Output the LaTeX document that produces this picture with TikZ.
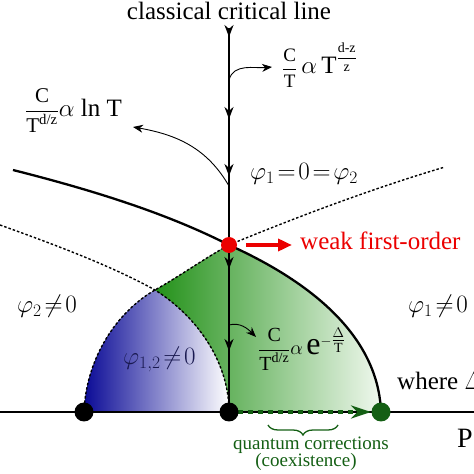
\documentclass[tikz,border=0pt]{standalone}
\usepackage{fix-cm}
\usepackage{amsmath}
\usepackage{fontspec}
\setmainfont{Liberation Serif}
\usetikzlibrary{arrows.meta, decorations.markings, decorations.pathreplacing}

\definecolor{bluephase}{RGB}{10,10,150}
\definecolor{greenphase}{RGB}{35,145,25}
\definecolor{greenlight}{RGB}{240,248,238}
\definecolor{darkgreen}{RGB}{20,95,20}
\definecolor{redpoint}{RGB}{235,0,0}
\definecolor{navytext}{RGB}{25,25,80}

\newcommand{\fsz}[1]{\fontsize{#1}{#1}\selectfont}

\tikzset{
  title/.style = {
    font=\fontsize{25}{28}\selectfont, inner sep=0pt
  },
  label/.style = {
    font=\fontsize{25}{28}\selectfont, inner sep=0pt, anchor=base west
  },
  smalllabel/.style = {
    font=\fontsize{20}{24}\selectfont, inner sep=0pt, anchor=base west
  },
  note/.style = {
    font=\fontsize{19}{20}\selectfont, inner sep=0pt, text=darkgreen
  },
  dot/.style = {
    circle, fill=black, inner sep=0pt, minimum size=19pt
  },
  bound/.style = { line width=2.3pt },
  dotline/.style = { line width=1.4pt, dash pattern=on 2.5pt off 2pt },
  thinarr/.style = { line width=0.9pt, -{Stealth[length=10pt, width=8pt]} },
  flowline/.style = {
    line width=2.2pt, postaction=decorate,
    decoration={markings,
      mark=at position 9pt   with {\arrow{Stealth[length=12pt, width=9pt]}},
      mark=at position 91pt  with {\arrow{Stealth[length=12pt, width=9pt]}},
      mark=at position 148pt with {\arrow{Stealth[length=12pt, width=9pt]}},
      mark=at position 241pt with {\arrow{Stealth[length=12pt, width=9pt]}},
      mark=at position 323pt with {\arrow{Stealth[length=12pt, width=9pt]}}}
  }
}

\begin{document}
\begin{tikzpicture}[x=1pt, y=1pt]

    \useasboundingbox (0,0) rectangle (474,474);

    % ------------------------------------------------------------- Key points
    \coordinate (L)    at (84,  62);
    \coordinate (O)    at (229, 62);
    \coordinate (G)    at (381, 62);
    \coordinate (R)    at (229, 229);
    \coordinate (X)    at (155, 184);
    \coordinate (top)  at (229, 446);
    \coordinate (axL)  at (0,   62);
    \coordinate (axR)  at (474, 62);
    \coordinate (solS) at (13,  304);
    \coordinate (dotA) at (0,   249);
    \coordinate (dotB) at (445, 307);

    % ---------------------------------------------------------------- Phases
    \fill [left color=bluephase, right color=white]
      (L) .. controls (86,114) and (115,161) .. (X)
          .. controls (195,159) and (229,114) .. (O) -- cycle;
    \fill [left color=greenphase, right color=greenlight]
      (X) .. controls (180,198) and (205,216) .. (R)
          .. controls (300,197) and (378,144) .. (G) -- (O)
          .. controls (229,114) and (195,159) .. (X) -- cycle;

    % ---------------------------------------------------------------- Lines
    \draw [dotline]
      (L) .. controls (86,114) and (115,161) .. (X)
          .. controls (180,198) and (205,216) .. (R)
          .. controls (270,246) and (360,282) .. (dotB);
    \draw [dotline]
      (dotA) .. controls (50,231) and (110,209) .. (X)
             .. controls (195,159) and (229,114) .. (O);
    \draw [bound]
      (solS) .. controls (100,282) and (170,259) .. (R)
             .. controls (300,197) and (378,144) .. (G);
    \draw [line width=2pt] (axL) -- (axR);
    \draw [flowline] (top) -- (O);

    % -------------------------------------------------------- Curved arrows
    \coordinate (a1s) at (229, 394);
    \coordinate (a1e) at (272, 407);
    \coordinate (a2s) at (229, 288);
    \coordinate (a2e) at (133, 347);
    \coordinate (a3s) at (229, 149);
    \coordinate (a3e) at (256, 137);
    \draw [thinarr] (a1s) to [out=75,  in=185] (a1e);
    \draw [thinarr] (a2s) to [out=120, in=-10] (a2e);
    \draw [thinarr] (a3s) to [out=15,  in=135] (a3e);

    % ------------------------------------------------ Quantum corrections
    \coordinate (br1) at (268, 49);
    \coordinate (br2) at (338, 49);
    \draw [darkgreen, line width=4pt, dash pattern=on 5pt off 5pt,
           -{Stealth[length=20pt, width=13pt]}, shorten <=9pt, shorten >=10pt]
      (O) -- (G);
    \draw [darkgreen, line width=1.3pt, decorate,
           decoration={brace, amplitude=10pt, mirror}] (br1) -- (br2);

    % ----------------------------------------------------------------- Dots
    \node [dot] (Ldot) at (L) {};
    \node [dot] (Odot) at (O) {};
    \node [dot, fill=darkgreen] (Gdot) at (G) {};
    \node [dot, fill=redpoint, minimum size=16pt] (Rdot) at (R) {};

    \coordinate (rA) at (246, 229);
    \coordinate (rB) at (292, 229);
    \draw [redpoint, line width=4pt, -{Triangle[length=14pt, width=12pt]}]
      (rA) -- (rB);

    % --------------------------------------------------------------- Labels
    \node [title, anchor=base] (clas) at (229, 454) {classical critical line};
    \node [label] (cT) at (282, 400)
      {{\fsz{19}$\dfrac{\text{C}}{\text{T}}$}$\,\alpha\,\text{T}^{\mbox{\fsz{14}$\dfrac{\text{d-z}}{\text{z}}$}}$};
    \node [label] (cln) at (25, 357)
      {{\fsz{21}$\dfrac{\text{C}}{\text{T}^{\text{d/z}}}$}$\alpha$ ln T};
    \node [label] (phi0) at (250, 294)
      {$\varphi_1\!=\!0\!=\!\varphi_2$};
    \node [label, text=redpoint] (weak) at (300, 224) {weak first-order};
    \node [label] (phi2) at (17, 161) {$\varphi_2\!\neq\!0$};
    \node [label] (phi1) at (408, 161) {$\varphi_1\!\neq\!0$};
    \node [label, text=navytext] (phi12) at (123, 109) {$\varphi_{1,2}\!\neq\!0$};
    \node [smalllabel] (cexp) at (258, 119)
      {$\dfrac{\text{C}}{\text{T}^{\text{d/z}}}\alpha\,
        \mbox{\fsz{32}e}^{-\tfrac{\Delta}{\text{T}}}$};
    \node [label] (where) at (397, 84) {where $\Delta$};
    \node [label, font=\fontsize{28}{30}\selectfont] (P) at (457, 27) {P};
    \node [note, anchor=base] (qc1) at (311, 24) {quantum corrections};
    \node [note, anchor=base] (qc2) at (306, 8) {(coexistence)};

\end{tikzpicture}
\end{document}
